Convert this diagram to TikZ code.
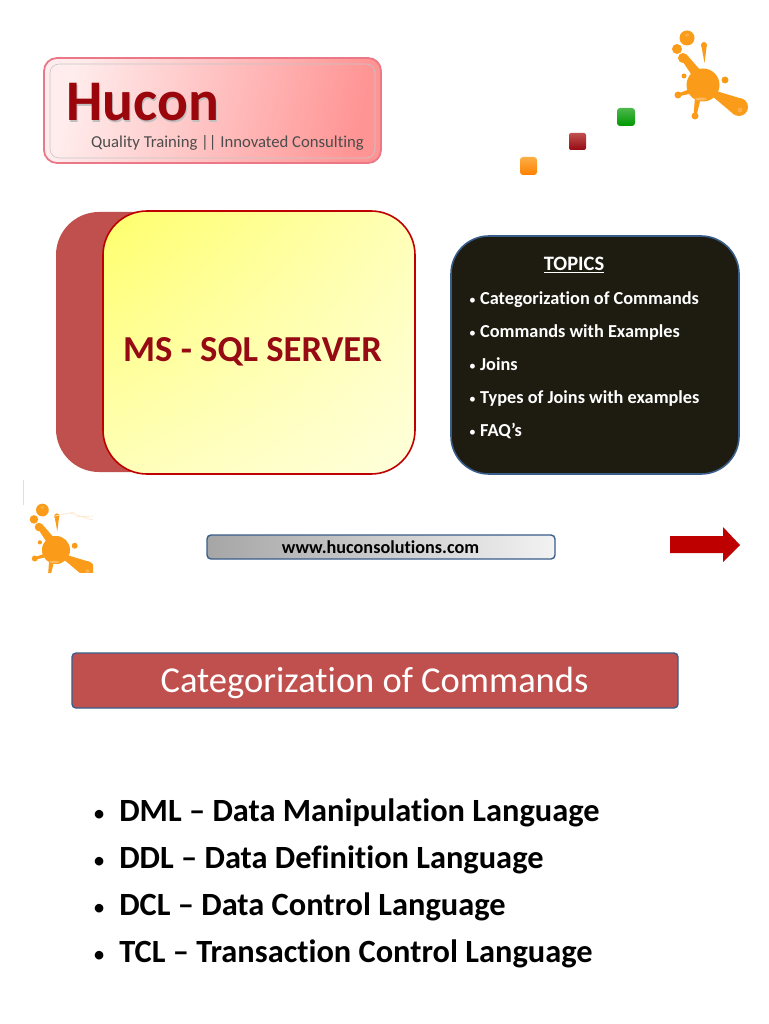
\documentclass[tikz,border=0pt]{standalone}
\usepackage{fontspec}
\setmainfont{Carlito}[Ligatures=NoCommon]
\usetikzlibrary{shadings}
\definecolor{hured}{RGB}{192,80,77}
\definecolor{hudark}{RGB}{150,10,20}
\definecolor{huorange}{RGB}{250,155,25}
\definecolor{hublue}{RGB}{56,93,138}
\definecolor{hublack}{RGB}{30,28,17}
\definecolor{hupink}{RGB}{235,120,135}
\tikzset{
  bar/.style={rounded corners=4pt,draw=hublue,line width=1.4pt},
  topic/.style={anchor=base west,inner sep=0pt,text=white,font=\fontsize{18.3}{18}\selectfont\bfseries},
  bigline/.style={anchor=base west,inner sep=0pt,text=black,font=\fontsize{32.4}{32}\selectfont\bfseries},
}
\newcommand{\smallbul}{{\mdseries\scalebox{.75}{•}}}
% splash drawn at (#1), size #2
\newcommand{\splash}[2]{
  \begin{scope}[shift={(#1)},scale=#2]
    \fill[huorange] (0,0) circle (16.5);
    \fill[huorange] (-16,-47) circle (7.5);
    \fill[huorange] (-26,-36) circle (5);
    \fill[huorange] (-20,-27) circle (5);
    \fill[huorange] (-24,-29) -- (-16,-30) -- (-2,-14) -- (-10,-8) -- cycle;
    \fill[huorange] (1,-40) circle (3);
    \fill[huorange] (-1.8,-40) -- (3.8,-40) -- (1.5,-22) -- cycle;
    \fill[huorange] (-19,-9) circle (2.5);
    \fill[huorange] (22,-5) circle (3.5);
    \fill[huorange] (-25,10) circle (3.5);
    \fill[huorange] (-8,31) circle (3.5);
    \fill[huorange] (-25,8.5) -- (-25,11.5) -- (-10,8) -- (-10,3) -- cycle;
    \fill[huorange] (-9.5,31) -- (-6.5,31) -- (-2,12) -- (-8,12) -- cycle;
    \fill[huorange] (36,22) circle (9);
    \fill[huorange] (13,6) -- (9,11) -- (31,29.5) -- (38,13.5) -- cycle;
    \fill[white,opacity=.3] (-2,14) ellipse (6 and 1.5);
    \fill[white,opacity=.2] (-16,-50) ellipse (2.5 and 1.5);
    \fill[white,opacity=.2] (37,25) ellipse (2.5 and 2.5);
  \end{scope}}
\begin{document}
\begin{tikzpicture}[x=1pt,y=-1pt,line join=round]
  \useasboundingbox (0,0) rectangle (768,1024);
  \fill[white] (0,0) rectangle (768,1024);

  % logo
  \shade[rounded corners=13pt,left color=red!7,right color=red!42,shading angle=78,draw=hupink,line width=1.8pt]
    (44,58) rectangle (381,163);
  \draw[rounded corners=9pt,gray!45,line width=.6pt] (50,64) rectangle (375,158);
  \node[anchor=base west,inner sep=0pt,text=black!25,font=\fontsize{57.5}{57}\selectfont\bfseries] (logoshadow) at (67,122.5) {Hucon};
  \node[anchor=base west,inner sep=0pt,text=hudark!70!red!85!black,font=\fontsize{57.5}{57}\selectfont\bfseries] (logotext) at (66,121) {Hucon};
  \node[anchor=base west,inner sep=0pt,text=black!70,font=\fontsize{16.7}{17}\selectfont] (slogan) at (91,148) {Quality Training || Innovated Consulting};

  % dots and splash
  \shade[rounded corners=3pt,top color=huorange!80,bottom color=orange] (520,157) rectangle (537,175);
  \shade[rounded corners=2pt,top color=hured,bottom color=hudark] (569,133) rectangle (586,150);
  \shade[rounded corners=3pt,top color=green!60!black!70,bottom color=green!60!black] (617,108) rectangle (635,126);
  \splash{703,85}{1}

  % title boxes
  \fill[hured,rounded corners=43pt] (56,212) rectangle (190,472);
  \shade[rounded corners=44pt,upper left=yellow!58,upper right=yellow!28,lower left=yellow!28,lower right=yellow!14,draw=red!75!black,line width=1.6pt]
    (103,211) rectangle (415,474);
  \node[text=hudark,font=\fontsize{36.6}{36}\selectfont\bfseries] (mainname) at (252.5,352) {MS - SQL SERVER};

  \filldraw[fill=hublack,draw=hublue,line width=1.6pt,rounded corners=38pt] (451,236) rectangle (739,474);
  \node[text=white,font=\fontsize{20.5}{20}\selectfont\bfseries] (topics) at (574,265) {\underline{TOPICS}};
  \node[topic] (t1) at (469,304) {\smallbul\ Categorization of Commands};
  \node[topic] (t2) at (469,337) {\smallbul\ Commands with Examples};
  \node[topic] (t3) at (469,370) {\smallbul\ Joins};
  \node[topic] (t4) at (469,403) {\smallbul\ Types of Joins with examples};
  \node[topic] (t5) at (469,436) {\smallbul\ FAQ’s};

  % footer of the cover
  \begin{scope}
    \clip (22,478) rectangle (93,572);
    \splash{56,550}{.85}
  \end{scope}
  \draw[gray!25,line width=.6pt] (23,480) -- (23,505);
  \draw[huorange!25,line width=.6pt] (55,516) -- (75,512) (70,513) -- (93,520) (75,517) -- (93,516);
  \shade[bar,left color=black!35,right color=black!5] (207,535) rectangle (555,559);
  \node[text=black,font=\fontsize{18.2}{18}\selectfont\bfseries] (url) at (380.5,547) {www.huconsolutions.com};
  \fill[red!75!black] (670,536) -- (723,536) -- (723,527) -- (740,545) -- (723,562) -- (723,553) -- (670,553) -- cycle;

  % second slide
  \filldraw[fill=hured,bar] (72,653) rectangle (678,708);
  \node[text=white,font=\fontsize{36.5}{36}\selectfont] (slidetitle) at (374.5,683) {Categorization of Commands};
  \node[bigline] (l1) at (93,821) {\smallbul\hspace{14pt}DML – Data Manipulation Language};
  \node[bigline] (l2) at (93,868) {\smallbul\hspace{14pt}DDL – Data Definition Language};
  \node[bigline] (l3) at (93,915) {\smallbul\hspace{14pt}DCL – Data Control Language};
  \node[bigline] (l4) at (93,962) {\smallbul\hspace{14pt}TCL – Transaction Control Language};
\end{tikzpicture}
\end{document}
